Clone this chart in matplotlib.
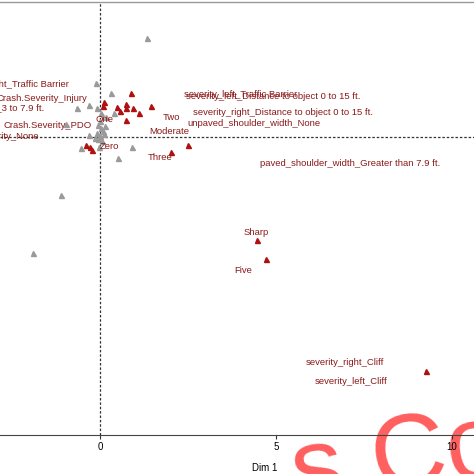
# MCA factor map (Dim 1 x Dim 2), cropped view of categories

import matplotlib.pyplot as plt

# active categories (dark red)
red_x = [0.88, 0.11, 0.09, 0.48, 0.74, 0.74, 0.94, 0.57, 1.11, 1.45, 0.74,
         2.50, 2.02, -0.40, -0.28, -0.23, 4.46, 4.72, 9.26]
red_y = [1.25, 0.99, 0.88, 0.85, 0.94, 0.82, 0.82, 0.74, 0.68, 0.88, 0.48,
         -0.23, -0.43, -0.23, -0.28, -0.37, -2.93, -3.47, -6.65]

# supplementary categories (grey)
grey_x = [1.34, -0.11, 0.31, -0.65, -0.31, -0.09, 0.03, 0.40, 0.17, -0.97,
          -0.31, -0.54, -0.03, 0.51, 0.91, -1.11, -1.90,
          -0.06, 0.03, 0.09, -0.09, 0.00, 0.11, -0.06, 0.06, -0.14, 0.00, 0.14]
grey_y = [2.81, 1.53, 1.25, 0.82, 0.91, 0.82, 0.68, 0.68, 0.57, 0.37,
          0.06, -0.31, -0.28, -0.60, -0.28, -1.65, -3.30,
          0.34, 0.26, 0.17, 0.11, 0.03, 0.09, -0.06, -0.11, -0.03, 0.45, 0.31]

# category labels: text, x, y, alignment
labels = ['severity_right_Traffic Barrier', 'Crash.Severity_Injury',
          'unpaved_shoulder_width_3 to 7.9 ft.', 'Crash.Severity_PDO', 'severity_None',
          'One', 'Zero', 'Two', 'Moderate', 'Three',
          'severity_left_Traffic Barrier', 'severity_left_Distance to object 0 to 15 ft.',
          'severity_right_Distance to object 0 to 15 ft.', 'unpaved_shoulder_width_None',
          'paved_shoulder_width_Greater than 7.9 ft.', 'Sharp', 'Five',
          'severity_right_Cliff', 'severity_left_Cliff']
label_x = [-0.88, -0.37, -1.59, -0.23, -1.73, 0.14, 0.28, 2.02, 1.96, 1.70,
           2.39, 2.44, 2.64, 2.47, 4.55, 4.43, 4.06, 6.96, 7.13]
label_y = [1.48, 1.08, 0.82, 0.34, 0.00, 0.51, -0.28, 0.54, 0.17, -0.57,
           1.22, 1.14, 0.71, 0.37, -0.74, -2.70, -3.78, -6.42, -6.96]
label_ha = ['right', 'right', 'right', 'right', 'right', 'center', 'center', 'center',
            'center', 'center', 'left', 'left', 'left', 'left', 'left',
            'center', 'center', 'center', 'center']

x_ticks = [0, 5, 10]

plt.rcParams['font.family'] = ['Liberation Sans', 'DejaVu Sans']

fig = plt.figure(figsize=(4.74, 4.74), dpi=100)
ax = fig.add_axes([0, 39 / 474, 1, 433 / 474])
ax.patch.set_visible(False)

ax.axhline(0, color='#333333', lw=0.9, ls=(0, (2, 1.5)), zorder=1)
ax.axvline(0, color='#333333', lw=0.9, ls=(0, (2, 1.5)), zorder=1)

ax.plot(grey_x, grey_y, ls='none', marker='^', ms=3.6, color='#9a9a9a', zorder=2)
ax.plot(red_x, red_y, ls='none', marker='^', ms=3.6, color='#b01010', zorder=3)

for txt, x, y, ha in zip(labels, label_x, label_y, label_ha):
    ax.text(x, y, txt, ha=ha, va='center', fontsize=6.8, color='#8b1a1a', zorder=4)

ax.set_xlim(-2.841, 10.625)
ax.set_ylim(-8.466, 3.835)
ax.set_xticks(x_ticks)
ax.set_xticklabels([str(t) for t in x_ticks])
ax.set_yticks([])
ax.tick_params(axis='x', direction='out', length=3, width=0.8, color='#333333',
               labelsize=7, pad=2)
for side in ['left', 'right']:
    ax.spines[side].set_visible(False)
ax.spines['bottom'].set_color('#444444')
ax.spines['top'].set_color('#999999')
ax.spines['top'].set_linewidth(1.0)

fig.text(265 / 474, 1 - 468 / 474, 'Dim 1', ha='center', va='center', fontsize=7)

# watermark fragment at the bottom, behind the axis line
fig.text(0.625, -0.062, 's Co', fontsize=75, color='#ff4d4d', alpha=0.9,
         rotation=8, rotation_mode='anchor', ha='left', va='baseline', zorder=-1)

fig.savefig('out.png', dpi=100)
